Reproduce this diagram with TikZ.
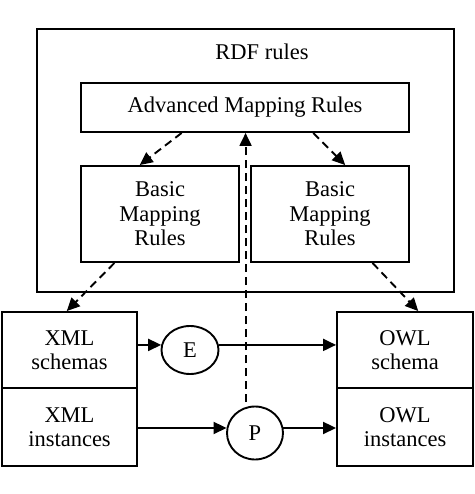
\documentclass[tikz,border=0pt]{standalone}
\usepackage{fontspec}
\setmainfont{Liberation Serif}
\usetikzlibrary{arrows.meta,calc,shapes.geometric}
\begin{document}
\begin{tikzpicture}[x=1pt,y=-1pt,
  lw/.style={line width=1.9pt},
  box/.style={lw,draw,rectangle,inner sep=0pt,align=center,font=\fontsize{22.5}{24.5}\selectfont},
  oval/.style={lw,draw,ellipse,inner sep=0pt,font=\fontsize{22.5}{24.5}\selectfont},
  arr/.style={lw,-{Triangle[length=13pt,width=12pt]}},
  darr/.style={arr,dash pattern=on 8pt off 5pt}]
\useasboundingbox (0,0) rectangle (474,494);
\node[box,minimum width=417pt,minimum height=263pt] (rdf) at (245.5,160.5) {};
\node[font=\fontsize{22.5}{24.5}\selectfont,inner sep=0pt] (rdflabel) at (262,52) {RDF rules};
\node[box,minimum width=328pt,minimum height=49pt] (adv) at (245,107.5) {Advanced Mapping Rules};
\node[box,minimum width=158pt,minimum height=96pt] (bl) at (160,214) {Basic\\Mapping\\Rules};
\node[box,minimum width=158pt,minimum height=96pt] (br) at (330,214) {Basic\\Mapping\\Rules};
\node[box,minimum width=135pt,minimum height=76pt] (xmls) at (69.5,350) {XML\\schemas};
\node[box,minimum width=135pt,minimum height=78pt] (xmli) at (69.5,427) {XML\\instances};
\node[box,minimum width=136pt,minimum height=76pt] (owls) at (405,350) {OWL\\schema};
\node[box,minimum width=136pt,minimum height=78pt] (owli) at (405,427) {OWL\\instances};
\node[oval,minimum width=57pt,minimum height=48pt] (E) at (190,350) {E};
\node[oval,minimum width=56pt,minimum height=53pt] (P) at (255,433) {P};
% dashed arrows
\draw[darr] ($(adv.south west)!0.308!(adv.south east)$) -- ($(bl.north west)!0.373!(bl.north east)$);
\draw[darr] ($(adv.south west)!0.707!(adv.south east)$) -- ($(br.north west)!0.595!(br.north east)$);
\draw[darr] ($(bl.south west)!0.215!(bl.south east)$) -- ($(xmls.north west)!0.48!(xmls.north east)$);
\draw[darr] ($(br.south west)!0.766!(br.south east)$) -- ($(owls.north west)!0.596!(owls.north east)$);
\coordinate (pup) at ($(P.110)+(0,-5)$);
\draw[darr] (pup) -- (pup |- adv.south);
% solid arrows
\draw[arr] (xmls.east |- E.170) -- (E.170);
\draw[arr] (E.10) -- (owls.west |- E.10);
\draw[arr] (xmli.east |- P.170) -- (P.170);
\draw[arr] (P.10) -- (owli.west |- P.10);
\end{tikzpicture}
\end{document}
